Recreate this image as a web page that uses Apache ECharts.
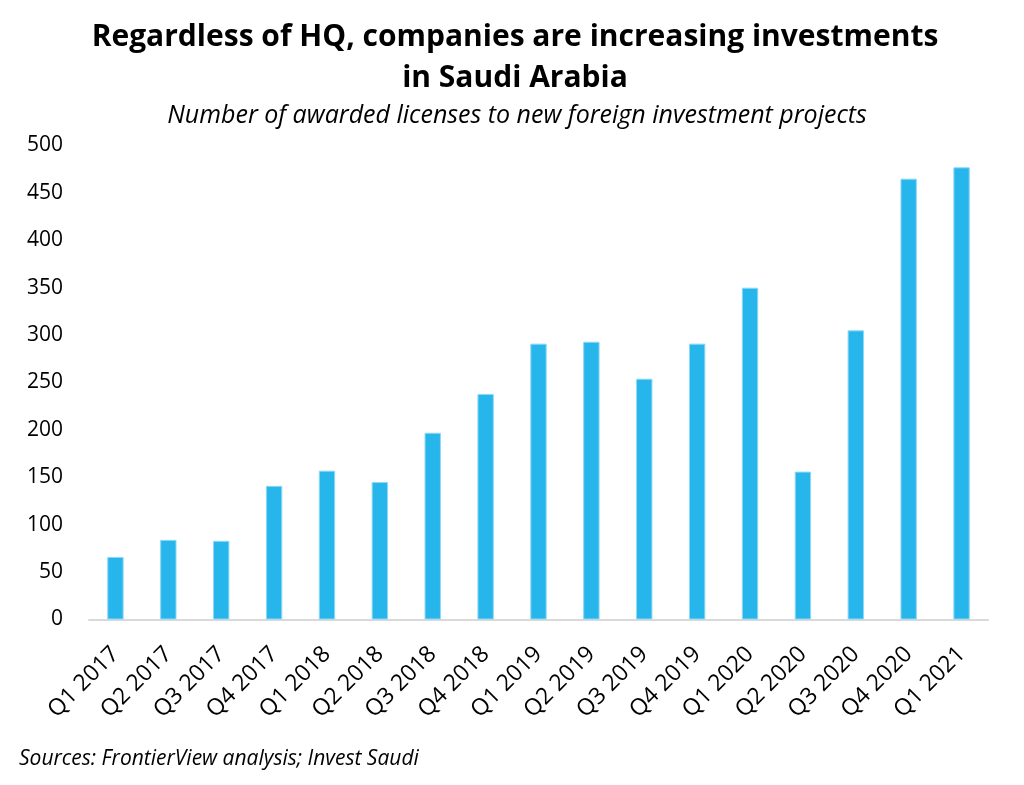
<!DOCTYPE html>
<html><head><meta charset="utf-8">
<script src="https://cdn.jsdelivr.net/npm/echarts@6/dist/echarts.min.js"></script>
<style>html,body{margin:0;padding:0;background:#fff}#c{width:1024px;height:785px}</style>
</head><body><div id="c"></div>
<script>
const categories = ['Q1 2017','Q2 2017','Q3 2017','Q4 2017','Q1 2018','Q2 2018','Q3 2018','Q4 2018','Q1 2019','Q2 2019','Q3 2019','Q4 2019','Q1 2020','Q2 2020','Q3 2020','Q4 2020','Q1 2021'];
const licenses = [66,84,83,141,157,145,197,238,291,293,254,291,350,156,305,465,477];
const yTicks = [0,50,100,150,200,250,300,350,400,450,500];
const titleText = 'Regardless of HQ, companies are increasing investments\nin Saudi Arabia';
const subtitleText = 'Number of awarded licenses to new foreign investment projects';
const sourceText = 'Sources: FrontierView analysis; Invest Saudi';

const FONT = '"Open Sans", "Noto Sans", sans-serif';
const chart = echarts.init(document.getElementById('c'));
chart.setOption({
  animation:false,
  backgroundColor:'#fff',
  title:[
    {text:titleText,left:510,top:12,textAlign:'center',
     textStyle:{fontFamily:FONT,fontSize:30,fontWeight:'bold',color:'#000',lineHeight:41}},
    {text:subtitleText,left:512,top:98,textAlign:'center',
     textStyle:{fontFamily:FONT,fontSize:25,fontStyle:'italic',fontWeight:'normal',color:'#000'}},
    {text:sourceText,left:14,top:744,
     textStyle:{fontFamily:FONT,fontSize:21,fontStyle:'italic',fontWeight:'normal',color:'#000'}}
  ],
  grid:{left:89,right:36,top:145.5,bottom:165.5,containLabel:false},
  xAxis:{type:'category',data:categories,
    axisLine:{lineStyle:{color:'#d9d9d9',width:2}},axisTick:{show:false},
    axisLabel:{rotate:45,interval:0,fontFamily:FONT,fontSize:23,color:'#000',margin:31}},
  yAxis:{type:'value',min:0,max:500,interval:50,
    axisLine:{show:false},axisTick:{show:false},splitLine:{show:false},
    axisLabel:{fontFamily:FONT,fontSize:21,color:'#000',margin:26,
      formatter:v=>yTicks.includes(v)?String(v):''}},
  series:[{type:'bar',data:licenses,barWidth:'31%',
    itemStyle:{color:'#27b6eb',borderColor:'#8fd8f5',borderWidth:1}}]
});
</script></body></html>
